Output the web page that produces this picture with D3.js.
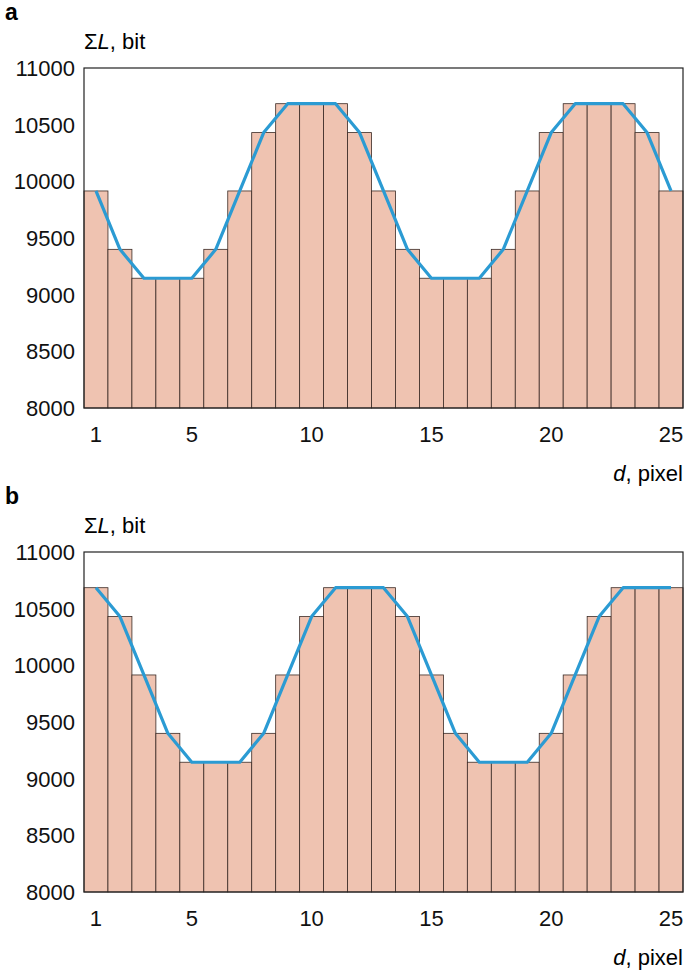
<!DOCTYPE html>
<html><head><meta charset="utf-8">
<script src="https://cdn.jsdelivr.net/npm/d3@7/dist/d3.min.js"></script>
<style>body{margin:0;background:#fff}text{font-family:"Liberation Sans",Arial,sans-serif}</style>
</head><body><svg id="c" width="685" height="976"></svg>
<script>
const positions = d3.range(1, 26);
const valuesA = [9915,9400,9145,9145,9145,9400,9915,10430,10685,10685,10685,10430,9915,9400,9145,9145,9145,9400,9915,10430,10685,10685,10685,10430,9915];
const valuesB = [10685,10430,9915,9400,9145,9145,9145,9400,9915,10430,10685,10685,10685,10430,9915,9400,9145,9145,9145,9400,9915,10430,10685,10685,10685];
const yTicks = [8000,8500,9000,9500,10000,10500,11000];
const xTicks = [1,5,10,15,20,25];
const panels = [{label:"a", values:valuesA, top:68},{label:"b", values:valuesB, top:552}];
const svg = d3.select("#c");
const L=84, R=683, H=340;
panels.forEach(p=>{
  const g = svg.append("g");
  const x = d3.scaleBand().domain(positions).range([L,R]).padding(0);
  const y = d3.scaleLinear().domain([8000,11000]).range([p.top+H,p.top]);
  g.selectAll("rect.bar").data(p.values).join("rect")
    .attr("x",(d,i)=>x(positions[i])).attr("width",x.bandwidth())
    .attr("y",d=>y(d)).attr("height",d=>y(8000)-y(d))
    .attr("fill","#efc3b1").attr("stroke","#3a2a25").attr("stroke-width",0.8);
  const line = d3.line().x((d,i)=>x(positions[i])+x.bandwidth()/2).y(d=>y(d));
  g.append("path").datum(p.values).attr("d",line).attr("fill","none")
    .attr("stroke","#2b9bd3").attr("stroke-width",3.2).attr("stroke-linejoin","round");
  g.append("rect").attr("x",L).attr("y",p.top).attr("width",R-L).attr("height",H)
    .attr("fill","none").attr("stroke","#222").attr("stroke-width",1.2);
  g.selectAll("text.yt").data(yTicks).join("text")
    .attr("x",L-9).attr("y",d=>y(d)+8).attr("text-anchor","end")
    .attr("font-size",22).attr("fill","#111").text(d=>d);
  g.selectAll("text.xt").data(xTicks).join("text")
    .attr("x",d=>x(d)+x.bandwidth()/2).attr("y",p.top+H+34).attr("text-anchor","middle")
    .attr("font-size",22).attr("fill","#111").text(d=>d);
  g.append("text").attr("x",5).attr("y",p.top-48).attr("font-size",23).attr("font-weight","bold").text(p.label);
  const yl = g.append("text").attr("x",L).attr("y",p.top-19).attr("font-size",22);
  yl.append("tspan").text("Σ"); yl.append("tspan").attr("font-style","italic").text("L"); yl.append("tspan").text(", bit");
  const xl = g.append("text").attr("x",R).attr("y",p.top+H+73).attr("font-size",22).attr("text-anchor","end");
  xl.append("tspan").attr("font-style","italic").text("d"); xl.append("tspan").text(", pixel");
});
</script></body></html>
